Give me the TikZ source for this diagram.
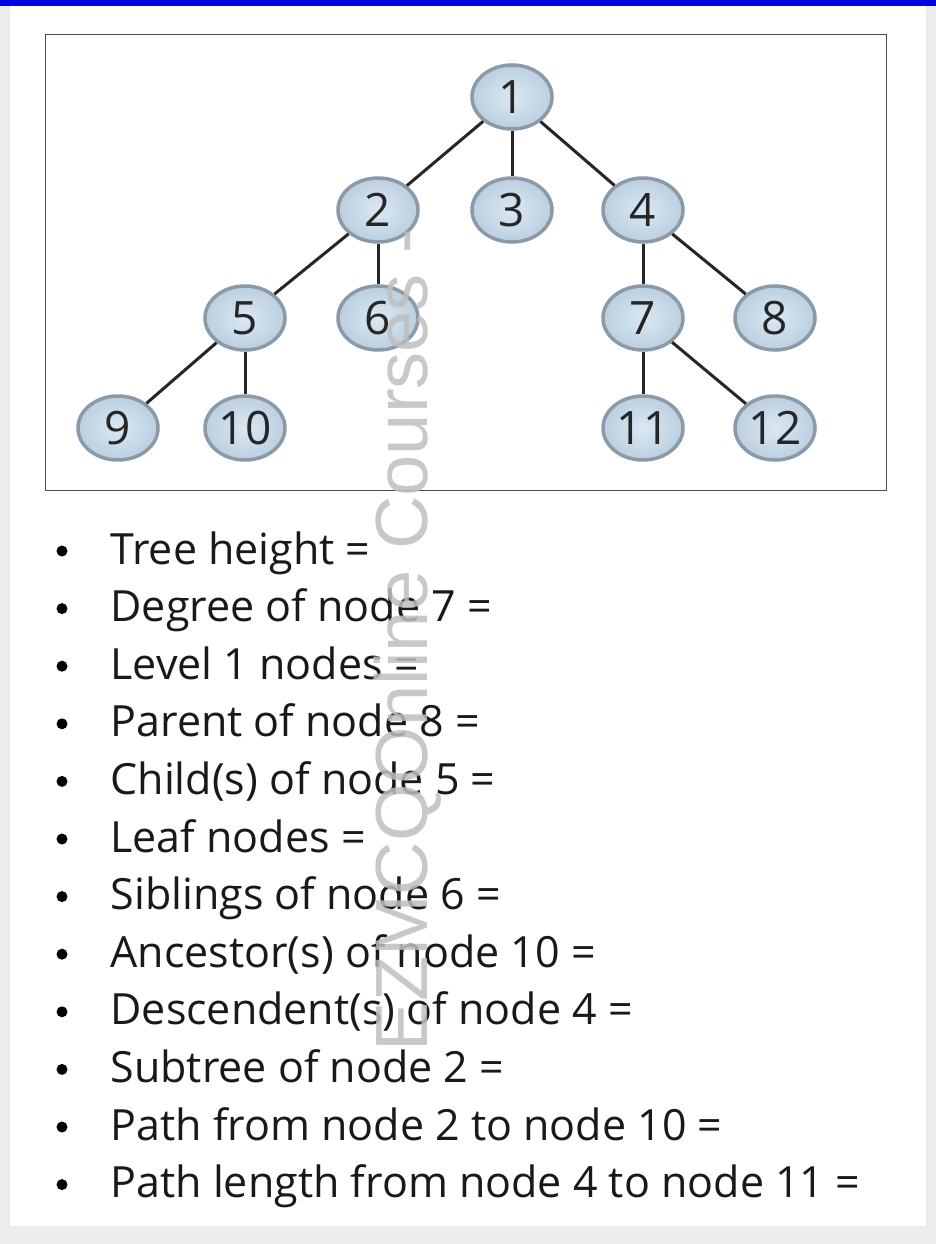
\documentclass[tikz,border=0pt]{standalone}
\usepackage{fontspec}
\setmainfont{Open Sans}
\newfontfamily\wmfont{Liberation Sans}
\usetikzlibrary{shapes.geometric}
\definecolor{nodefill}{HTML}{C2D8EA}
\definecolor{nodeedge}{HTML}{8A9AA8}
\begin{document}
\begin{tikzpicture}[x=1pt,y=-1pt,
  tn/.style={ellipse,minimum width=80pt,minimum height=64pt,inner sep=0pt,
    inner color=nodefill!60!white,outer color=nodefill!90!gray,draw=nodeedge,line width=3.5pt,
    font=\fontsize{46}{46}\selectfont,text=black!85},
  edge/.style={line width=3pt,black!85},
  item/.style={anchor=base west,font=\fontsize{43}{46}\selectfont,text=black!90},
  bul/.style={circle,fill=black,inner sep=0pt,minimum size=11pt}]
\fill[gray!15] (0,0) rectangle (936,1244);
\fill[blue!90!black] (0,0) rectangle (936,6);
\fill[white] (10,6) rectangle (926,1226);
\draw[black!70,line width=1pt] (45,35) rectangle (886,490);
\node[tn] (n1) at (512,97) {1};
\node[tn] (n2) at (378,210) {2};
\node[tn] (n3) at (512,210) {3};
\node[tn] (n4) at (643,210) {4};
\node[tn] (n5) at (245,318) {5};
\node[tn] (n6) at (378,318) {6};
\node[tn] (n7) at (643,318) {7};
\node[tn] (n8) at (775,318) {8};
\node[tn] (n9) at (118,428) {9};
\node[tn] (n10) at (245,428) {10};
\node[tn] (n11) at (643,428) {11};
\node[tn] (n12) at (775,428) {12};
\foreach \a/\b in {n1/n2,n1/n3,n1/n4,n2/n5,n2/n6,n4/n7,n4/n8,n5/n9,n5/n10,n7/n11,n7/n12}
  \draw[edge] (\a) -- (\b);
\foreach \i/\t in {0/{Tree height =},1/{Degree of node 7 =},2/{Level 1 nodes =},3/{Parent of node 8 =},4/{Child(s) of node 5 =},5/{Leaf nodes =},6/{Siblings of node 6 =},7/{Ancestor(s) of node 10 =},8/{Descendent(s) of node 4 =},9/{Subtree of node 2 =},10/{Path from node 2 to node 10 =},11/{Path length from node 4 to node 11 =}}{
  \node[bul] (b\i) at (62,{551+57.6*\i}) {};
  \node[item] (t\i) at (107,{564+57.6*\i}) {\t};
}
\node[rotate=90,text=gray!50,opacity=0.85,font=\wmfont\fontsize{74}{74}\selectfont] (wm) at (408,640) {EZMCQOnline Courses -};
\end{tikzpicture}
\end{document}
